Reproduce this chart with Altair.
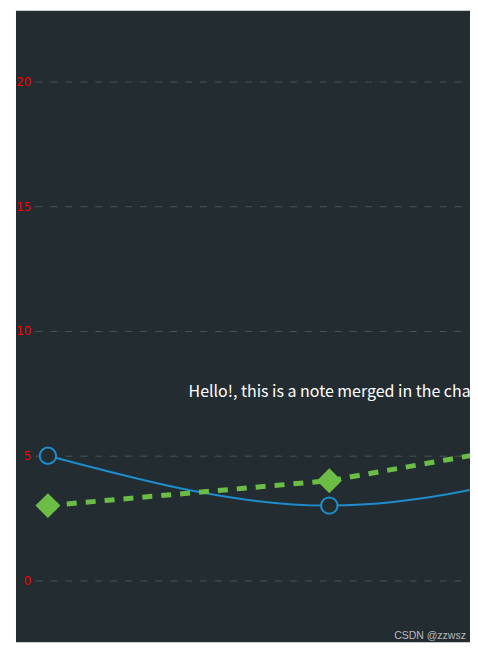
import altair as alt
import pandas as pd

# ---- data ----
idx = [0, 1, 2]
series_a = [5, 3, 5]      # blue smooth line, hollow circles
series_b = [3, 4, 6]      # green dashed line, diamonds
y_ticks = [0, 5, 10, 15, 20]
note_text = ["Hello!, this is a note merged in the chart"]
note_pos = [(0.5, 7.56)]
mark_text_wm = ["CSDN @zzwsz"]
wm_pos = [(1.2305, -2.24)]

BG = "#232c31"
BLUE = "#1d8dcb"
GREEN = "#6cbd45"
GRID = "#4a5459"

df_a = pd.DataFrame({"i": idx, "v": series_a})
df_b = pd.DataFrame({"i": idx, "v": series_b})
df_note = pd.DataFrame({"i": [p[0] for p in note_pos], "v": [p[1] for p in note_pos], "t": note_text})
df_wm = pd.DataFrame({"i": [p[0] for p in wm_pos], "v": [p[1] for p in wm_pos], "t": mark_text_wm})

W, H = 455, 633
xs = alt.Scale(domain=[-32 / 282, (W - 32) / 282], nice=False, zero=False)
ys = alt.Scale(domain=[(581 - 10 - H) / 25, (581 - 10) / 25], nice=False, zero=False)

grid_dash = [0, 19] + [7, 8] * 32

X = alt.X("i:Q", scale=xs, axis=None)
Y = alt.Y(
    "v:Q",
    scale=ys,
    title=None,
    axis=alt.Axis(
        values=y_ticks,
        offset=-19,
        ticks=False,
        domain=False,
        labelPadding=4,
        labelColor="#ff0000",
        labelFontSize=12,
        labelFont="DejaVu Sans",
        grid=True,
        gridColor=GRID,
        gridWidth=1,
        gridDash=grid_dash,
    ),
)

line_a = alt.Chart(df_a).mark_line(
    color=BLUE, strokeWidth=2, interpolate="monotone", clip=True
).encode(x=X, y=Y)
pts_a = alt.Chart(df_a).mark_point(
    shape="circle", size=270, filled=True, fill=BG, stroke=BLUE, strokeWidth=2,
    opacity=1, clip=True
).encode(x=X, y=Y)

line_b = alt.Chart(df_b).mark_line(
    color=GREEN, strokeWidth=5, strokeDash=[10, 9], clip=True
).encode(x=X, y=Y)
pts_b = alt.Chart(df_b).mark_point(
    shape="diamond", size=625, filled=True, color=GREEN, opacity=1, clip=True
).encode(x=X, y=Y)

note = alt.Chart(df_note).mark_text(
    align="left", baseline="middle", color="#ffffff", fontSize=16,
    font="Noto Sans CJK SC", clip=True
).encode(x=X, y=Y, text="t:N")

wm = alt.Chart(df_wm).mark_text(
    align="left", baseline="middle", color="#d0d4d6", fontSize=10.5,
    font="Liberation Sans", opacity=0.85, clip=True
).encode(x=X, y=Y, text="t:N")

chart = (
    alt.layer(line_a, line_b, pts_a, pts_b, note, wm)
    .properties(width=W, height=H, background="#ffffff",
                padding={"left": 7, "top": 2, "right": 0, "bottom": 0})
    .configure_view(fill=BG, stroke=None)
)

chart.save("out.html", embed_options={"renderer": "svg", "actions": False})
